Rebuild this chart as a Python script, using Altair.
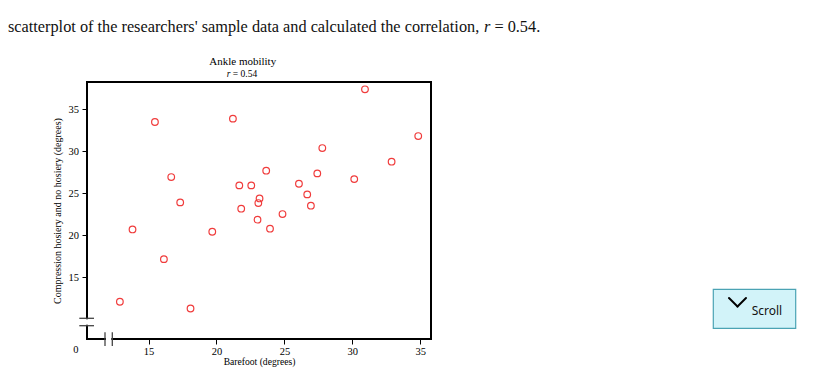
import altair as alt
import pandas as pd

# ---- data ----
barefoot = [15.47, 21.21, 30.93, 34.85, 27.79, 32.89, 16.67, 23.66, 27.42, 30.14,
            21.68, 22.56, 26.07, 26.68, 23.17, 23.08, 17.33, 26.95, 21.82, 24.86,
            23.02, 23.94, 13.82, 19.69, 16.13, 12.89, 18.09]
hosiery = [33.49, 33.89, 37.38, 31.82, 30.39, 28.77, 26.94, 27.70, 27.38, 26.70,
           25.95, 25.95, 26.15, 24.88, 24.40, 23.85, 23.93, 23.54, 23.18, 22.54,
           21.87, 20.80, 20.71, 20.44, 17.18, 12.11, 11.31]
x_ticks = [15, 20, 25, 30, 35]
y_ticks = [15, 20, 25, 30, 35]

title_text = "Ankle mobility"
subtitle_r = "r"
subtitle_rest = "= 0.54"
para_main = "scatterplot of the researchers' sample data and calculated the correlation,"
para_r = "r"
para_rest = "= 0.54."
x_title = "Barefoot (degrees)"
y_title = "Compression hosiery and no hosiery (degrees)"

SERIF = "Liberation Serif"
W, H = 344, 257

df = pd.DataFrame({"barefoot": barefoot, "hosiery": hosiery})

points = alt.Chart(df).mark_point(
    shape="circle", filled=False, size=44, strokeWidth=1.2, color="#f03c3c", opacity=1
).encode(
    x=alt.X("barefoot:Q",
            scale=alt.Scale(domain=[10.47, 35.79], nice=False, zero=False),
            axis=alt.Axis(values=x_ticks, tickSize=5, tickColor="black", tickWidth=1,
                          domain=False, grid=False, labelFont=SERIF, labelFontSize=10.5,
                          labelColor="black", labelPadding=2, labelFlush=False,
                          title=x_title, titleFont=SERIF, titleFontSize=9.6,
                          titleFontWeight="normal", titleColor="black",
                          titleY=25, titleBaseline="alphabetic")),
    y=alt.Y("hosiery:Q",
            scale=alt.Scale(domain=[7.68, 38.25], nice=False, zero=False),
            axis=alt.Axis(values=y_ticks, tickSize=5, tickColor="black", tickWidth=1,
                          domain=False, grid=False, labelFont=SERIF, labelFontSize=10.5,
                          labelColor="black", labelPadding=3.5, labelFlush=False,
                          title=y_title, titleFont=SERIF, titleFontSize=10,
                          titleFontWeight="normal", titleColor="black",
                          titleX=-27, titleBaseline="alphabetic")),
)

one = pd.DataFrame({"k": [0]})


def seg(x1, y1, x2, y2, color="black", width=2, cap="square"):
    return alt.Chart(one).mark_rule(color=color, strokeWidth=width, strokeCap=cap).encode(
        x=alt.value(x1), y=alt.value(y1), x2=alt.value(x2), y2=alt.value(y2))


def label(txt, x, y, size, font=SERIF, align="left", baseline="alphabetic",
          style="normal", color="black"):
    return alt.Chart(pd.DataFrame({"t": [txt]})).mark_text(
        font=font, fontSize=size, align=align, baseline=baseline, fontStyle=style,
        color=color).encode(x=alt.value(x), y=alt.value(y), text="t:N")


frame = [
    seg(0, 0, W, 0),            # top
    seg(W, 0, W, H),            # right
    seg(0, 0, 0, 236.3),        # left upper
    seg(0, 243.7, 0, H),        # left lower
    seg(0, H, 18, H),           # bottom left
    seg(25.3, H, W, H),         # bottom right
]
breaks = [
    seg(-7.7, 236.3, 7, 236.3, color="#444", width=1.3, cap="butt"),
    seg(-7.7, 243.7, 7, 243.7, color="#444", width=1.3, cap="butt"),
    seg(18, 250.3, 18, 264, color="#444", width=1.3, cap="butt"),
    seg(25.3, 250.3, 25.3, 264, color="#444", width=1.3, cap="butt"),
]
texts = [
    label("0", -11.2, 268.3, 10.5, align="center", baseline="middle"),
    label(title_text, 155.7, -17, 11, align="center"),
    label(subtitle_r, 139.7, -5.5, 9.5, style="italic"),
    label(subtitle_rest, 145.8, -5.5, 9.5),
    label(para_main, -79, -50.5, 16.3, color="#111"),
    label(para_r, 397, -50.5, 16.3, style="italic", color="#111"),
    label(para_rest, 407.4, -50.5, 16.3, color="#111"),
]
button = [
    alt.Chart(one).mark_rect(fill="#d2f3f9", stroke="#4ba3b4", strokeWidth=1.2).encode(
        x=alt.value(626.3), x2=alt.value(708.7), y=alt.value(207.3), y2=alt.value(246.3)),
    seg(642, 216, 650.5, 224.5, width=2, cap="round"),
    seg(650.5, 224.5, 659, 216, width=2, cap="round"),
    label("Scroll", 664.7, 232.5, 12, font="Noto Sans", color="#111"),
]

chart = alt.layer(points, *frame, *breaks, *texts, *button).properties(
    width=W, height=H,
    autosize=alt.AutoSizeParams(type="none"),
    padding={"left": 79, "top": 74, "right": 372, "bottom": 30},
    background="white",
).configure_view(stroke="transparent")

chart.save("out.html", embed_options={"renderer": "svg", "actions": False})
